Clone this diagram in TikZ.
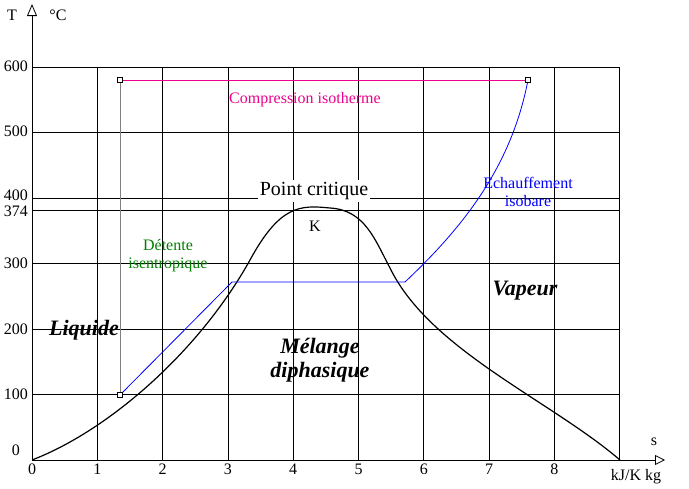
\documentclass[tikz,border=0pt]{standalone}
\usepackage{fontspec}
\setmainfont{Liberation Serif}
\usetikzlibrary{arrows.meta,positioning}
\tikzset{
  grid line/.style={black, line width=0.8pt},
  tick/.style={font=\fontsize{16}{18}\selectfont, inner sep=1pt},
  label/.style={font=\fontsize{16}{18}\selectfont, align=center, inner sep=0pt},
  region/.style={font=\fontsize{22}{24}\bfseries\itshape\selectfont, inner sep=1pt},
  state/.style={draw, black, fill=white, rectangle, minimum size=5pt, inner sep=0pt, line width=0.5pt},
}
\begin{document}
\begin{tikzpicture}[x=1pt, y=-1pt]
        \useasboundingbox (0,0) rectangle (689,488);
        % grid
        \foreach \i in {0,...,9} {
            \draw[grid line] ({32+65.3*\i},67) -- ({32+65.3*\i},460);
        }
        \foreach \j in {1,...,6} {
            \draw[grid line] (32,{460-65.5*\j}) -- (620,{460-65.5*\j});
        }
        \draw[grid line] (32,210) -- (620,210);
        % axes
        \coordinate (o) at (32,460);
        \coordinate (xend) at (665,460);
        \coordinate (yend) at (32,4);
        \draw[grid line, -{Triangle[open, length=10pt, width=10pt]}] (o) -- (xend);
        \draw[grid line, -{Triangle[open, length=12pt, width=10pt]}] (o) -- (yend);
        \node[tick] (t) at (12,15) {T};
        \node[tick] (c) at (58,15) {°C};
        \node[tick] (s) at (654,442) {s};
        \node[tick] (u) at (636,477) {kJ/K kg};
        \foreach \i in {0,...,8} {
            \node[tick] (x\i) at ({32+65.3*\i},469) {\i};
        }
        \foreach \j/\y in {0/450,100/394,200/329,300/263,400/195,500/131,600/66} {
            \node[tick] (y\j) at (16,\y) {\j};
        }
        \node[tick] (y374) at (16,211) {374};
        % saturation dome
        \draw[black, line width=1.2pt] (32,460) .. controls (110,430) and (200,350) .. (250,260)
            .. controls (280,205) and (300,205) .. (330,208)
            .. controls (365,210) and (375,240) .. (390,268)
            .. controls (430,350) and (550,400) .. (620,460);
        % cycle
        \node[state] (a) at (120,395) {};
        \node[state] (b) at (120,80) {};
        \node[state] (d) at (528,80) {};
        \coordinate (p) at (232,282);
        \coordinate (q) at (405,282);
        \draw[blue, line width=0.8pt] (a) -- (p) -- (q) .. controls (460,230) and (510,170) .. (d);
        \draw[magenta, line width=0.8pt] (b) -- (d);
        \draw[gray, line width=0.8pt] (a) -- (b);
        % labels
        \node[label, text=magenta] (ci) at (305,100) {Compression isotherme};
        \node[font=\fontsize{20}{22}\selectfont, fill=white, inner sep=2pt] (pc) at (314,191) {Point critique};
        \node[tick] (k) at (315,226) {K};
        \node[label, text=green!50!black] (di) at (168,256) {Détente\\isentropique};
        \node[label, text=blue] (ei) at (528,192) {Echauffement\\isobare};
        \node[region] (liq) at (84,330) {Liquide};
        \node[region, align=center] (mel) at (320,360) {Mélange\\diphasique};
        \node[region] (vap) at (525,291) {Vapeur};
\end{tikzpicture}
\end{document}
